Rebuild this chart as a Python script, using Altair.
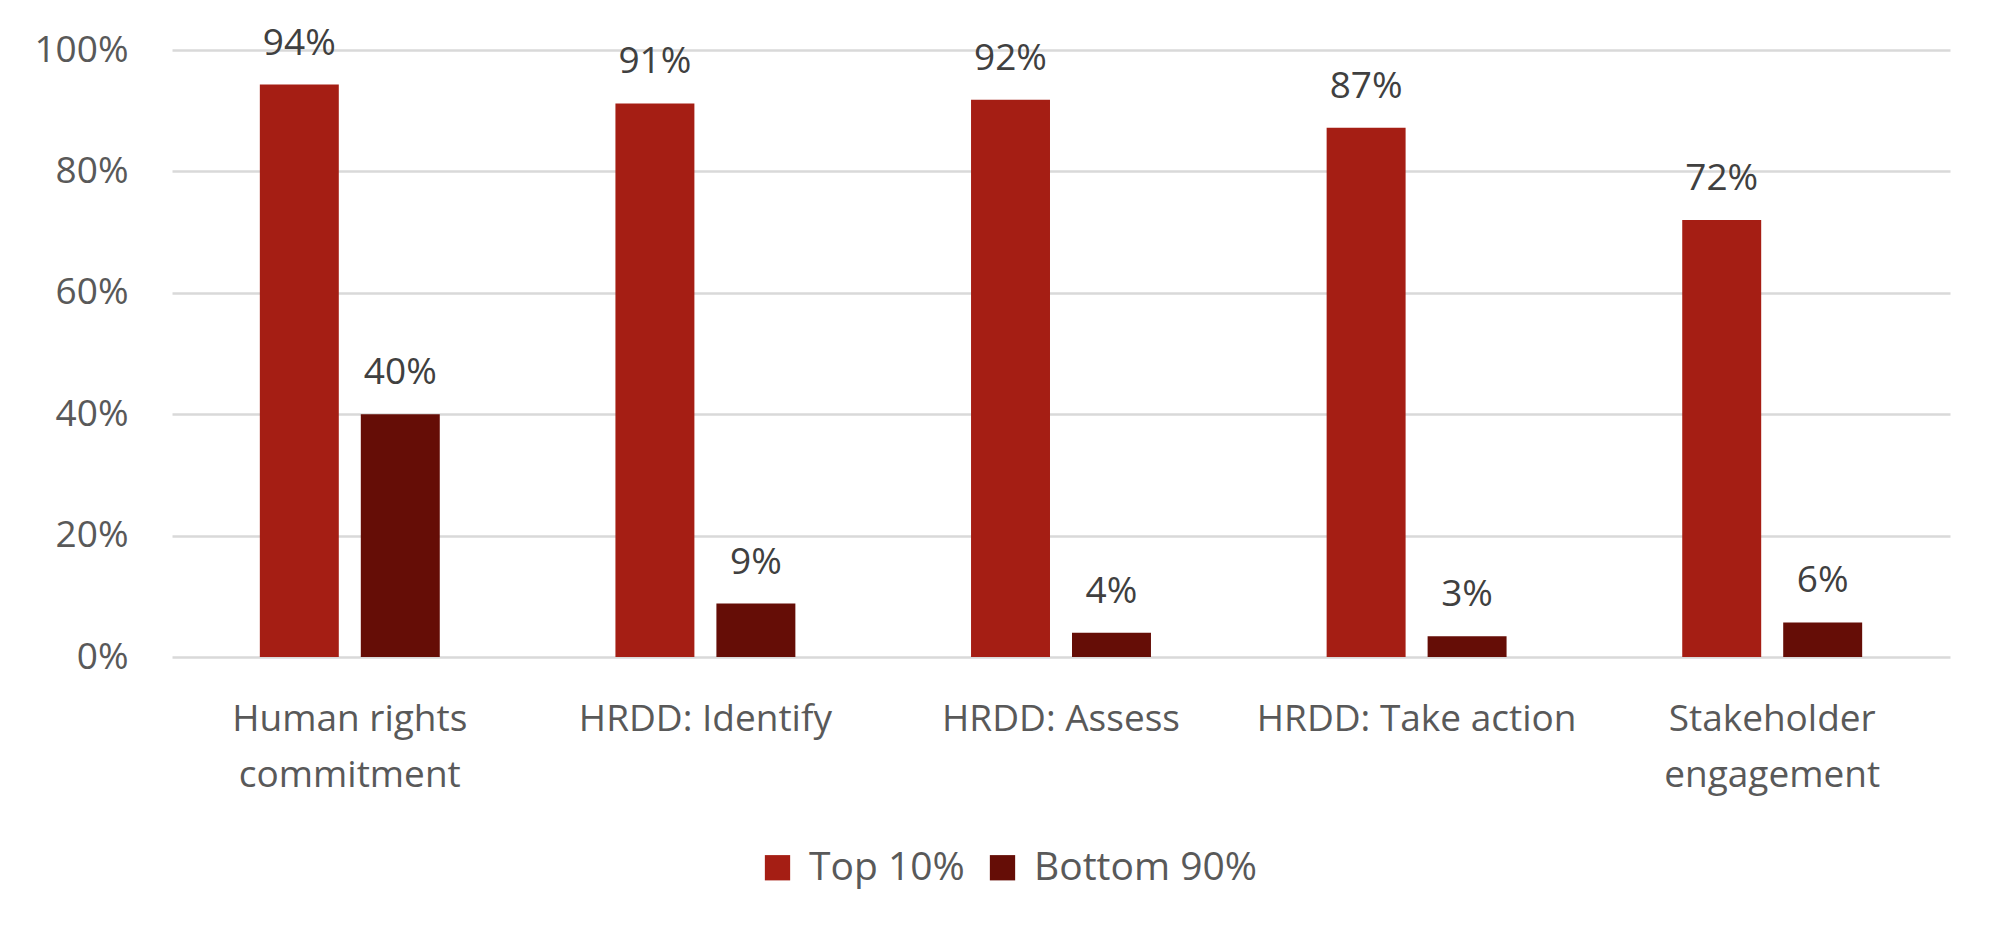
import altair as alt
import pandas as pd

categories = ["Human rights commitment", "HRDD: Identify", "HRDD: Assess",
              "HRDD: Take action", "Stakeholder engagement"]
groups = ["Top 10%", "Bottom 90%"]
top10 = [0.943, 0.912, 0.918, 0.872, 0.72]
bottom90 = [0.40, 0.088, 0.040, 0.034, 0.057]
colors = ["#A51E14", "#650D06"]
y_ticks = [0, 0.2, 0.4, 0.6, 0.8, 1.0]

rows = []
for c, t, b in zip(categories, top10, bottom90):
    rows.append({"category": c, "group": groups[0], "value": t})
    rows.append({"category": c, "group": groups[1], "value": b})
df = pd.DataFrame(rows)

FONT = "Segoe UI, Open Sans"
FS = 37

x_enc = alt.X(
    "category:N", sort=categories,
    scale=alt.Scale(paddingInner=0.494, paddingOuter=0.247),
    axis=alt.Axis(
        title=None, labelAngle=0, domain=False, ticks=False,
        labelFont=FONT, labelFontSize=FS, labelColor="#595959",
        labelPadding=44, labelLineHeight=56, labelLimit=0,
        labelExpr="datum.label == 'Human rights commitment' ? ['Human rights', 'commitment'] : "
                  "datum.label == 'Stakeholder engagement' ? ['Stakeholder', 'engagement'] : datum.label",
    ),
)
y_enc = alt.Y(
    "value:Q",
    scale=alt.Scale(domain=[0, 1]),
    axis=alt.Axis(
        title=None, format=".0%", values=y_ticks, domain=False, ticks=False,
        labelFont=FONT, labelFontSize=FS, labelColor="#595959", labelPadding=44,
        gridColor="#D9D9D9", gridWidth=2.5, minExtent=150, maxExtent=150,
    ),
)
xoff = alt.XOffset("group:N", sort=groups, scale=alt.Scale(paddingInner=0.218, paddingOuter=0))

bars = alt.Chart(df).mark_bar().encode(
    x=x_enc, y=y_enc, xOffset=xoff,
    color=alt.Color(
        "group:N", sort=groups,
        scale=alt.Scale(domain=groups, range=colors),
        legend=alt.Legend(
            title=None, orient="none", direction="horizontal",
            legendX=586, legendY=798,
            symbolType="square", symbolSize=640, symbolStrokeWidth=0,
            labelFont=FONT, labelFontSize=FS + 2, labelColor="#595959",
            columnPadding=18, labelOffset=12, labelLimit=0,
        ),
    ),
)

labels = alt.Chart(df).mark_text(
    baseline="alphabetic", dy=-30, font=FONT, fontSize=FS, color="#404040"
).encode(
    x=alt.X("category:N", sort=categories),
    xOffset=alt.XOffset("group:N", sort=groups),
    y="value:Q",
    text=alt.Text("value:Q", format=".0%"),
)

chart = (bars + labels).properties(
    width=1778, height=607,
    autosize=alt.AutoSizeParams(type="none"),
    padding={"left": 164, "top": 42, "right": 40, "bottom": 250},
).configure_view(stroke=None)

chart.save("out.html", embed_options={"renderer": "svg", "actions": False})
